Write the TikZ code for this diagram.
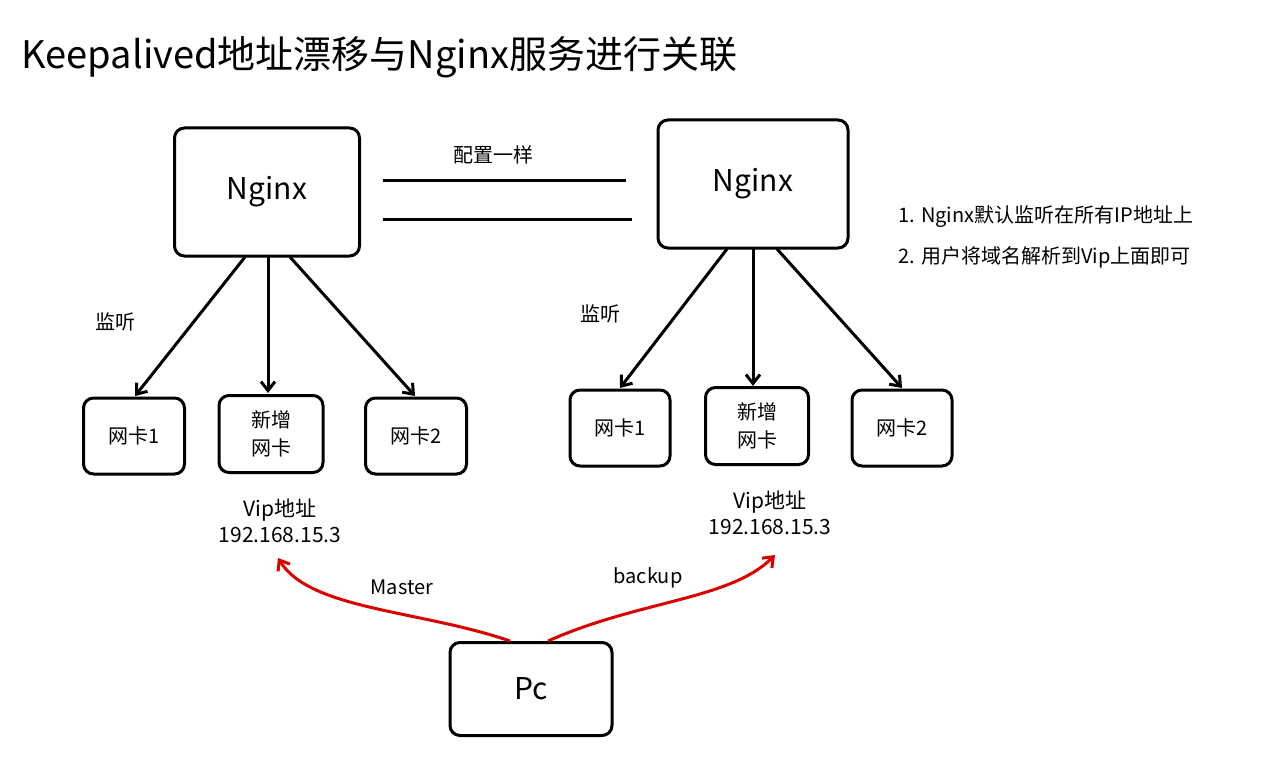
\documentclass[tikz,border=0pt]{standalone}
\usepackage{fontspec}
\setmainfont{Noto Sans CJK SC}
\usetikzlibrary{arrows.meta}
\begin{document}
\begin{tikzpicture}[x=1pt,y=-1pt,
 box/.style={draw,line width=3pt,rounded corners=10pt,inner sep=0pt},
 arr/.style={line width=3pt,-{Straight Barb[length=9pt,width=14pt]}},
 rarr/.style={draw=red!85!black,line width=3pt,-{Straight Barb[length=9pt,width=14pt]}},
 lbl/.style={font=\fontsize{20}{24}\selectfont},
 big/.style={font=\fontsize{30}{36}\selectfont}]
\useasboundingbox (0,0) rectangle (1282,773);
\node[anchor=west,font=\fontsize{38}{44}\selectfont] (title) at (18,57) {Keepalived地址漂移与Nginx服务进行关联};
% left
\node[box,minimum width=185pt,minimum height=128pt,big] (n1) at (267,192) {Nginx};
\node[box,minimum width=101pt,minimum height=76pt,lbl] (l1) at (134,436) {网卡1};
\node[box,minimum width=104pt,minimum height=77pt,lbl,align=center] (l2) at (271,434) {新增\\[4pt]网卡};
\node[box,minimum width=101pt,minimum height=76pt,lbl] (l3) at (416,436) {网卡2};
% right
\node[box,minimum width=190pt,minimum height=128pt,big] (n2) at (753,184) {Nginx};
\node[box,minimum width=100pt,minimum height=76pt,lbl] (r1) at (620,428) {网卡1};
\node[box,minimum width=103pt,minimum height=77pt,lbl,align=center] (r2) at (757,426) {新增\\[4pt]网卡};
\node[box,minimum width=100pt,minimum height=76pt,lbl] (r3) at (902,428) {网卡2};
% arrows
\coordinate (a1) at (245,257);\coordinate (a2) at (268,257);\coordinate (a3) at (290,257);
\draw[arr] (a1) -- (135,396);
\draw[arr] (a2) -- (268,393);
\draw[arr] (a3) -- (415,396);
\coordinate (b1) at (727,249);\coordinate (b2) at (753,249);\coordinate (b3) at (777,249);
\draw[arr] (b1) -- (620,388);
\draw[arr] (b2) -- (753,386);
\draw[arr] (b3) -- (902,388);
\node[lbl] (m1) at (115,322) {监听};
\node[lbl] (m2) at (600,314) {监听};
% equal lines
\coordinate (e1) at (383,180);\coordinate (e2) at (626,180);
\coordinate (e3) at (383,219);\coordinate (e4) at (632,219);
\draw[line width=3pt] (e1) -- (e2);
\draw[line width=3pt] (e3) -- (e4);
\node[lbl] (same) at (493,155) {配置一样};
% notes
\node[lbl,anchor=west] (note1) at (895,217) {1. Nginx默认监听在所有IP地址上};
\node[lbl,anchor=west] (note2) at (895,257) {2. 用户将域名解析到Vip上面即可};
% vip
\node[lbl,align=center,font=\fontsize{21}{26}\selectfont] (v1) at (280,521) {Vip地址\\192.168.15.3};
\node[lbl,align=center,font=\fontsize{21}{26}\selectfont] (v2) at (770,513) {Vip地址\\192.168.15.3};
% pc
\node[box,minimum width=162pt,minimum height=93pt,big] (pc) at (531,689) {Pc};
\coordinate (p1) at (510,641);\coordinate (p2) at (548,641);
\coordinate (t1) at (278,558);\coordinate (t2) at (775,555);
\draw[rarr] (p1) .. controls (420,610) and (310,610) .. (t1);
\draw[rarr] (p2) .. controls (640,600) and (730,600) .. (t2);
\node[lbl] (ms) at (402,587) {Master};
\node[lbl] (bk) at (648,578) {backup};
\end{tikzpicture}
\end{document}
